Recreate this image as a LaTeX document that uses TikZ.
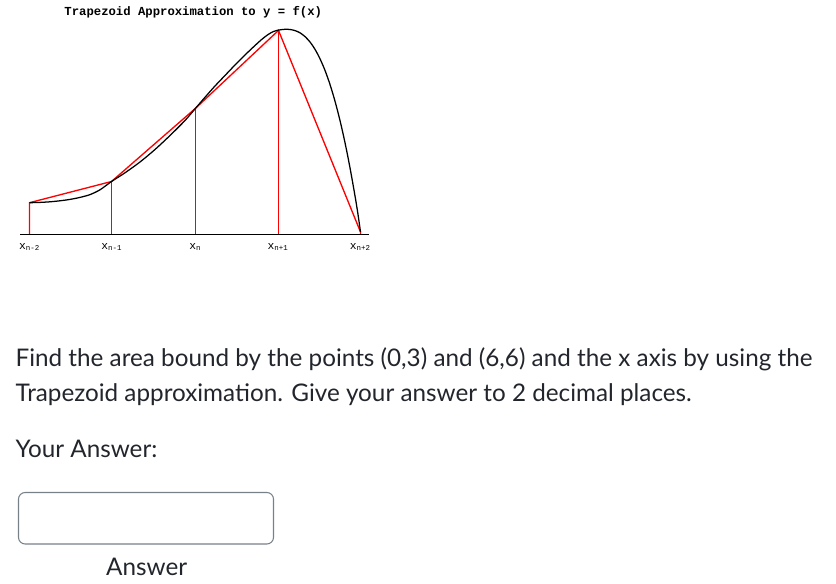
\documentclass[tikz,border=0pt]{standalone}
\usepackage{fontspec}
\setmainfont{Lato}
\newfontfamily\pixfont{Liberation Mono}
\definecolor{txt}{RGB}{34,38,44}
\definecolor{boxgray}{RGB}{120,128,136}
\tikzset{
  curve/.style={black, line width=0.95pt},
  trap/.style={red, line width=1pt},
  axislab/.style={inner sep=0pt, anchor=base, font=\pixfont\fontsize{8.5pt}{9pt}\selectfont},
  body/.style={inner sep=0pt, anchor=base west, text=txt, font=\fontsize{18.2pt}{22pt}\selectfont},
}
\newcommand{\xlab}[1]{x\raisebox{-0.7pt}{\fontsize{5.6pt}{6pt}\selectfont #1}}
\begin{document}
\begin{tikzpicture}[x=0.75pt,y=-0.75pt]
\useasboundingbox (0,0) rectangle (836,584);
% title
\node[inner sep=0pt, anchor=base, font=\pixfont\bfseries\fontsize{9.2pt}{10pt}\selectfont] (title) at (193.3,15.5) {Trapezoid Approximation to y = f(x)};
% axis
\coordinate (axL) at (20,234.5);
\coordinate (axR) at (369,234.5);
% sample points
\coordinate (p0) at (29.5,202.7);
\coordinate (p1) at (111.5,181.5);
\coordinate (p2) at (195.5,108.3);
\coordinate (p3) at (278.5,30.4);
\coordinate (p4) at (360.5,232);
\coordinate (b0) at (29.5,234.5);
\coordinate (b1) at (111.5,234.5);
\coordinate (b2) at (195.5,234.5);
\coordinate (b3) at (278.5,234.5);
\coordinate (b4) at (360.5,234.5);
% trapezoids
\draw[trap] (b1) -- (p1);
\draw[trap] (b2) -- (p2);
\draw[trap] (b3) -- (p3);
\draw[trap] (b0) -- (p0) -- (p1) -- (p2) -- (p3) -- (p4) -- (b4);
% curve
\draw[curve] plot[smooth, tension=0.5] coordinates {
 (29.5,202.7) (40,202.4) (50,201.8) (60,200.8) (70,199.4) (80,197.4) (90,194.6)
 (100,189.8) (111.5,181.5) (125,172.8) (140,162) (155,149.5) (170,135.5)
 (185,120.5) (195.5,108.3) (205,97.3) (215,86) (225,75.5) (235,65) (245,55)
 (255,45.5) (262,39.2) (268,34.6) (273.3,31.6) (278.5,30.1) (285,29.3)
 (290,29.5) (295,30.6) (300,32.8) (305,36.6) (310,42) (315,49.3) (320,58.8)
 (325,70.4) (330,84.5) (335,101.2) (340,120.5) (345,142.7) (350,167.8)
 (355,195.9) (358,214.4) (360.5,232)};
\draw[black, line width=0.8pt] (axL) -- (axR);
% axis labels
\node[axislab] (l0) at (29.3,250) {\xlab{n-2}};
\node[axislab] (l1) at (111.4,250) {\xlab{n-1}};
\node[axislab] (l2) at (195,250) {\xlab{n}};
\node[axislab] (l3) at (277.7,250) {\xlab{n+1}};
\node[axislab] (l4) at (360,250) {\xlab{n+2}};
% question text
\node[body] (q1) at (15.3,366.7) {Find the area bound by the points (0,3) and (6,6) and the x axis by using the};
\node[body] (q2) at (15.3,401.7) {Trapezoid approximation. Give your answer to 2 decimal places.};
\node[body] (ya) at (15.3,457.7) {Your Answer:};
% input box
\draw[boxgray, line width=0.8pt, rounded corners=5pt] (18.5,492.5) rectangle (273.5,544) node[pos=0.5] (box) {};
\node[inner sep=0pt, anchor=base, text=txt, font=\fontsize{18.2pt}{22pt}\selectfont] (ans) at (146.7,575.5) {Answer};
\end{tikzpicture}
\end{document}
